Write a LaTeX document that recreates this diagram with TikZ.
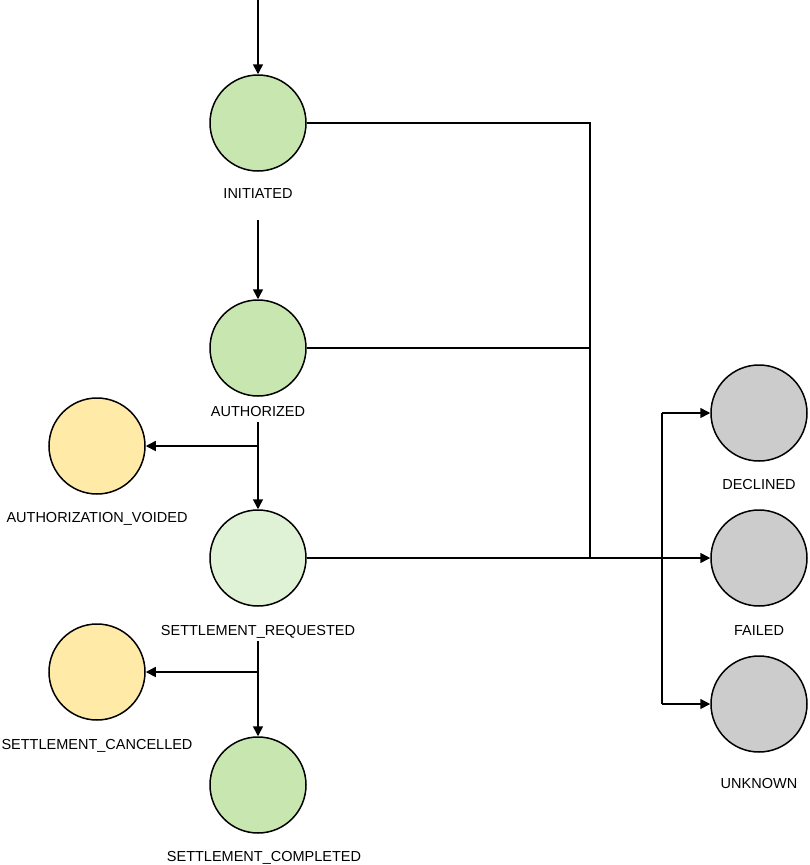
\documentclass[tikz,border=0pt]{standalone}
\usepackage{fontspec}
\setmainfont{Liberation Sans}
\usetikzlibrary{arrows.meta}
\definecolor{cgreen}{RGB}{200,230,175}
\definecolor{clight}{RGB}{224,242,214}
\definecolor{cyellow}{RGB}{255,234,168}
\definecolor{cgray}{RGB}{204,204,204}
\begin{document}
\begin{tikzpicture}[x=1pt,y=-1pt,
  state/.style={circle,draw=black,line width=1.5pt,minimum size=96pt,inner sep=0pt},
  lbl/.style={font=\fontsize{14.5}{16}\selectfont,inner sep=0pt,anchor=base},
  conn/.style={line width=1.5pt},
  arr/.style={conn,-{Triangle[length=10pt,width=10pt]}}]
\useasboundingbox (0,0) rectangle (809,865);
% states
\node[state,fill=cgreen] (ini) at (258,123) {};
\node[state,fill=cgreen] (aut) at (258,348) {};
\node[state,fill=cyellow] (void) at (97,446) {};
\node[state,fill=clight] (sreq) at (258,558) {};
\node[state,fill=cyellow] (scan) at (97,672) {};
\node[state,fill=cgreen] (scom) at (258,785) {};
\node[state,fill=cgray] (dec) at (759,413) {};
\node[state,fill=cgray] (fail) at (759,558) {};
\node[state,fill=cgray] (unk) at (759,704) {};
% labels
\node[lbl] (lini) at (258,198) {INITIATED};
\node[lbl] (laut) at (258,416) {AUTHORIZED};
\node[lbl] (lvoid) at (97,522) {AUTHORIZATION\_VOIDED};
\node[lbl] (lsreq) at (258,635) {SETTLEMENT\_REQUESTED};
\node[lbl] (lscan) at (97,749) {SETTLEMENT\_CANCELLED};
\node[lbl] (lscom) at (264,861) {SETTLEMENT\_COMPLETED};
\node[lbl] (ldec) at (759,489) {DECLINED};
\node[lbl] (lfail) at (759,635) {FAILED};
\node[lbl] (lunk) at (759,788) {UNKNOWN};
% coordinates
\coordinate (start) at (258,0);
\coordinate (i1) at (258,220);
\coordinate (a1) at (258,422);
\coordinate (a2) at (258,446);
\coordinate (s1) at (258,641);
\coordinate (s2) at (258,672);
\coordinate (j1) at (590,123);
\coordinate (j2) at (590,348);
\coordinate (j3) at (590,558);
\coordinate (k1) at (662,413);
\coordinate (k2) at (662,704);
% connectors
\draw[arr] (start) -- (ini.north);
\draw[arr] (i1) -- (aut.north);
\draw[arr] (a1) -- (sreq.north);
\draw[arr] (a2) -- (void.east);
\draw[arr] (s1) -- (scom.north);
\draw[arr] (s2) -- (scan.east);
\draw[conn] (ini.east) -- (j1) -- (j3);
\draw[conn] (aut.east) -- (j2);
\draw[arr] (sreq.east) -- (fail.west);
\draw[conn] (k1) -- (k2);
\draw[arr] (k1) -- (dec.west);
\draw[arr] (k2) -- (unk.west);
\end{tikzpicture}
\end{document}
